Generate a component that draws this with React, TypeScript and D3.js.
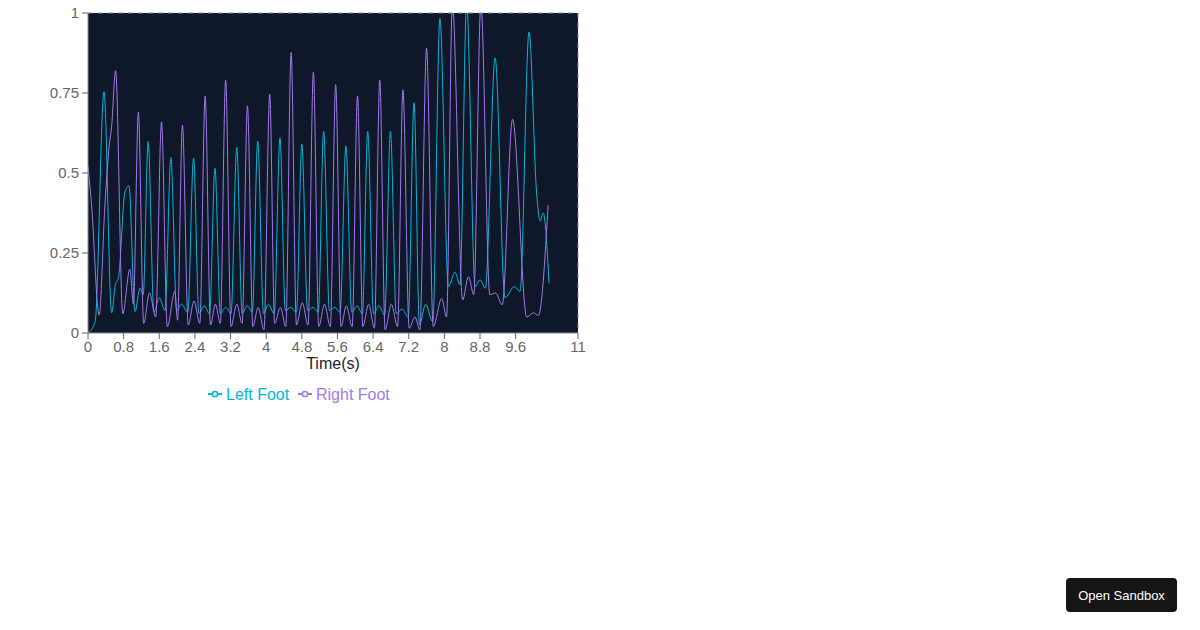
import * as d3 from 'd3'

type Sample = [number, number]

const X_TICKS = [0, 0.8, 1.6, 2.4, 3.2, 4, 4.8, 5.6, 6.4, 7.2, 8, 8.8, 9.6, 11]
const Y_TICKS = [0, 0.25, 0.5, 0.75, 1]

// time (s), normalised pressure — at peaks, troughs and bumps
const LEFT_FOOT: Sample[] = [
  [0, 0], [0.16, 0.035], [0.36, 0.754], [0.53, 0.063], [0.62, 0.155], [0.68, 0.17],
  [0.83, 0.44], [0.92, 0.46], [1.055, 0.067], [1.17, 0.14], [1.24, 0.12], [1.35, 0.598],
  [1.48, 0.065], [1.6, 0.11], [1.73, 0.07], [1.86, 0.548], [1.99, 0.07], [2.1, 0.09],
  [2.24, 0.065], [2.37, 0.547], [2.49, 0.06], [2.61, 0.085], [2.73, 0.06], [2.85, 0.515],
  [2.97, 0.06], [3.09, 0.08], [3.21, 0.06], [3.34, 0.58], [3.46, 0.06], [3.57, 0.085],
  [3.69, 0.065], [3.81, 0.6], [3.94, 0.06], [4.05, 0.09], [4.18, 0.06], [4.31, 0.61],
  [4.43, 0.07], [4.55, 0.08], [4.68, 0.065], [4.8, 0.59], [4.93, 0.07], [5.05, 0.08],
  [5.17, 0.065], [5.29, 0.63], [5.42, 0.07], [5.54, 0.08], [5.66, 0.065], [5.79, 0.585],
  [5.92, 0.065], [6.04, 0.085], [6.16, 0.06], [6.28, 0.63], [6.41, 0.06], [6.53, 0.085],
  [6.66, 0.055], [6.79, 0.63], [6.92, 0.06], [7.05, 0.075], [7.19, 0.05], [7.32, 0.72],
  [7.44, 0.025], [7.58, 0.09], [7.74, 0.035], [7.9, 0.983], [8.09, 0.145], [8.24, 0.19],
  [8.35, 0.15], [8.5, 1.03], [8.69, 0.145], [8.8, 0.166], [8.92, 0.14], [9.14, 0.86],
  [9.36, 0.11], [9.57, 0.145], [9.7, 0.13], [9.9, 0.94], [10.07, 0.44], [10.15, 0.35],
  [10.22, 0.375], [10.35, 0.155],
]

const RIGHT_FOOT: Sample[] = [
  [0, 0.52], [0.08, 0.4], [0.25, 0.056], [0.38, 0.4], [0.48, 0.59], [0.53, 0.645],
  [0.62, 0.82], [0.78, 0.06], [0.94, 0.2], [1.02, 0.09], [1.13, 0.69], [1.25, 0.03],
  [1.38, 0.125], [1.52, 0.05], [1.65, 0.66], [1.78, 0.02], [1.95, 0.13], [2.01, 0.04],
  [2.12, 0.65], [2.25, 0.025], [2.38, 0.1], [2.51, 0.03], [2.63, 0.74], [2.75, 0.025],
  [2.86, 0.09], [2.97, 0.03], [3.09, 0.79], [3.21, 0.02], [3.34, 0.09], [3.46, 0.03],
  [3.58, 0.71], [3.7, 0.02], [3.82, 0.08], [3.95, 0.01], [4.08, 0.746], [4.19, 0.03],
  [4.32, 0.08], [4.44, 0.02], [4.56, 0.877], [4.68, 0.025], [4.81, 0.095], [4.94, 0.025],
  [5.06, 0.815], [5.18, 0.02], [5.31, 0.09], [5.44, 0.02], [5.56, 0.776], [5.68, 0.02],
  [5.8, 0.085], [5.93, 0.02], [6.05, 0.74], [6.17, 0.02], [6.3, 0.09], [6.43, 0.015],
  [6.55, 0.79], [6.67, 0.01], [6.81, 0.09], [6.95, 0.02], [7.07, 0.76], [7.21, 0.015],
  [7.34, 0.05], [7.45, 0.01], [7.6, 0.89], [7.75, 0.02], [7.94, 0.108], [8.05, 0.05],
  [8.18, 1.03], [8.41, 0.103], [8.54, 0.176], [8.66, 0.12], [8.82, 1.03], [9.02, 0.12],
  [9.15, 0.125], [9.3, 0.088], [9.53, 0.668], [9.85, 0.05], [10.0, 0.063], [10.11, 0.055],
  [10.33, 0.4],
]

const SERIES = [
  { name: 'Left Foot', color: '#06b6d4', data: LEFT_FOOT },
  { name: 'Right Foot', color: '#9f7aea', data: RIGHT_FOOT },
]

const PLOT = { left: 88, right: 578, top: 13, bottom: 333 }
const FONT = '"Liberation Sans", Arial, sans-serif'

export default function App() {
  const x = d3.scaleLinear().domain([0, 11]).range([PLOT.left, PLOT.right])
  const y = d3.scaleLinear().domain([0, 1]).range([PLOT.bottom, PLOT.top])
  const line = d3
    .line<Sample>()
    .x((d) => x(d[0]))
    .y((d) => y(d[1]))
    .curve(d3.curveMonotoneX)

  const legendX = [208, 298]

  return (
    <svg
      width={1200}
      height={630}
      style={{ position: 'absolute', left: 0, top: 0, fontFamily: FONT }}
    >
      <defs>
        <clipPath id="plot-clip">
          <rect x={PLOT.left} y={PLOT.top} width={PLOT.right - PLOT.left} height={PLOT.bottom - PLOT.top} />
        </clipPath>
      </defs>

      <rect
        x={PLOT.left}
        y={PLOT.top}
        width={PLOT.right - PLOT.left}
        height={PLOT.bottom - PLOT.top}
        fill="#0f172a"
        stroke="#8a8f98"
        strokeDasharray="5 5"
      />

      <g clipPath="url(#plot-clip)" fill="none">
        {SERIES.map((s) => (
          <path key={s.name} d={line(s.data) ?? undefined} stroke={s.color} strokeWidth={1} />
        ))}
      </g>

      {/* y axis */}
      <line x1={PLOT.left} x2={PLOT.left} y1={PLOT.top} y2={PLOT.bottom} stroke="#8a8f98" strokeDasharray="5 5" />
      {Y_TICKS.map((t) => (
        <g key={t}>
          <line x1={PLOT.left - 6} x2={PLOT.left} y1={y(t)} y2={y(t)} stroke="#666" />
          <text x={PLOT.left - 9} y={y(t)} dy="0.36em" textAnchor="end" fontSize={15} fill="#666">
            {t}
          </text>
        </g>
      ))}

      {/* x axis */}
      <line x1={PLOT.left} x2={PLOT.right} y1={PLOT.bottom} y2={PLOT.bottom} stroke="#8a8f98" strokeDasharray="5 5" />
      {X_TICKS.map((t) => (
        <g key={t}>
          <line x1={x(t)} x2={x(t)} y1={PLOT.bottom} y2={PLOT.bottom + 6} stroke="#666" />
          <text x={x(t)} y={PLOT.bottom + 19} textAnchor="middle" fontSize={15} fill="#666">
            {t}
          </text>
        </g>
      ))}
      <text x={(PLOT.left + PLOT.right) / 2} y={369} textAnchor="middle" fontSize={16} fill="#1e1b2e">
        Time(s)
      </text>

      {/* legend */}
      {SERIES.map((s, i) => (
        <g key={s.name} transform={`translate(${legendX[i]},394)`}>
          <line x1={0} x2={14} y1={0} y2={0} stroke={s.color} strokeWidth={2} />
          <circle cx={7} cy={0} r={2.6} fill="#fff" stroke={s.color} strokeWidth={1.5} />
          <text x={18} y={0} dy="0.35em" fontSize={16} fill={s.color}>
            {s.name}
          </text>
        </g>
      ))}

      {/* sandbox button */}
      <rect x={1066} y={578} width={111} height={34} rx={4} fill="#151515" />
      <text x={1121.5} y={595} dy="0.35em" textAnchor="middle" fontSize={13} fill="#fff">
        Open Sandbox
      </text>
    </svg>
  )
}
